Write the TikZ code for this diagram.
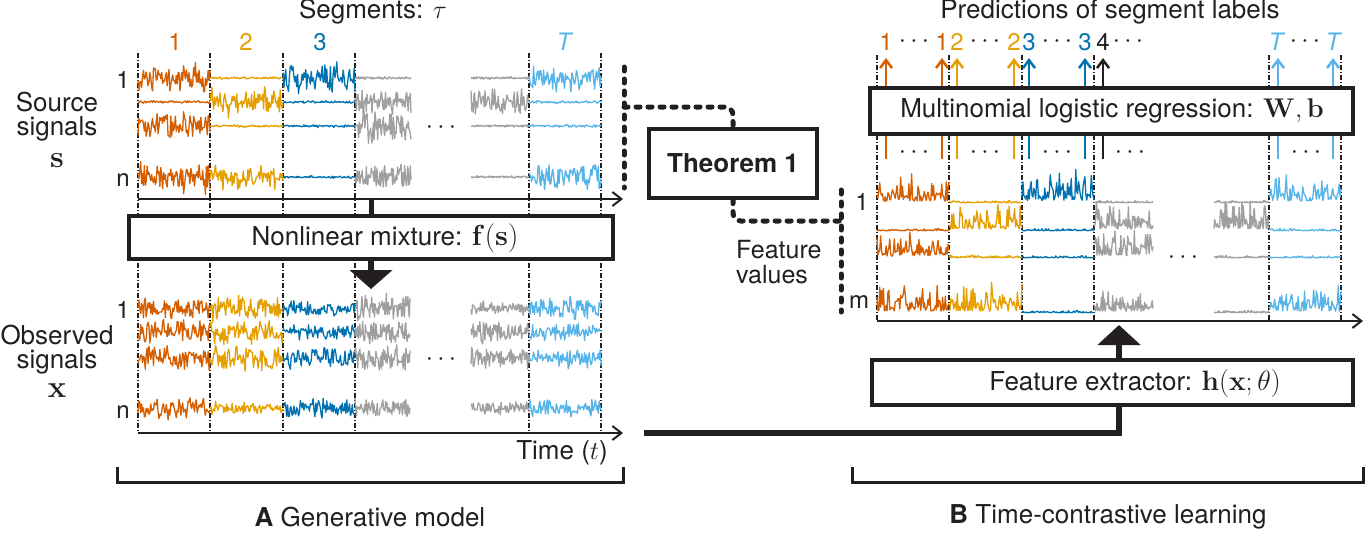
\RequirePackage{fix-cm}
\documentclass[tikz,border=0pt]{standalone}
\usepackage[no-math]{fontspec}
\setmainfont{TeX Gyre Heros}
\usetikzlibrary{arrows.meta}
\definecolor{cOr}{HTML}{D55E00}
\definecolor{cYe}{HTML}{E69F00}
\definecolor{cBl}{HTML}{0072B2}
\definecolor{cLb}{HTML}{56B4E9}
\definecolor{cGr}{HTML}{A0A0A0}
\definecolor{cBk}{HTML}{231F20}
\newcommand{\sgl}[5]{\draw[sigl,#1] plot[domain=#2:#3,samples=80] (\x,{#4+#5*rand*(0.35+0.65*abs(rand))});}
\newcommand{\ftr}[5]{\draw[sigl,#1] plot[domain=#2:#3,samples=80] (\x,{#4-#5*(0.06+0.94*abs(rand*rand))});}
\newcommand{\mydots}{$\cdot\mkern-1mu\cdot\mkern-1mu\cdot$}
\tikzset{
 sigl/.style={line width=1.3pt, line join=round},
 segline/.style={cBk, line width=1.1pt, dash pattern=on 5pt off 2pt on 1pt off 2pt},
 axisline/.style={cBk, line width=2pt, -{Straight Barb[length=9pt,width=14pt]}},
 box/.style={draw=cBk, line width=3.2pt, fill=white, inner sep=0pt},
 lbl/.style={text=cBk, font=\fontsize{26}{26}\selectfont, inner sep=0pt},
 smalllbl/.style={font=\fontsize{24}{24}\selectfont, inner sep=0pt},
 parr/.style={line width=2.5pt, -{Straight Barb[length=8pt,width=12pt]}},
 dotl/.style={cBk, line width=5pt, line cap=round, dash pattern=on 4pt off 8pt},
 thickline/.style={cBk, line width=6.5pt},
 brk/.style={cBk, line width=3pt},
}
\begin{document}
\begin{tikzpicture}[x=1pt,y=-1pt]
\useasboundingbox (0,0) rectangle (1367,541);
\pgfmathsetseed{7}
% ---------- segment boundaries ----------
\foreach \xx in {138,210,283,355,529,601} \draw[segline] (\xx,53) -- (\xx,433);
\foreach \xx in {877,949,1022,1094,1269,1341} \draw[segline] (\xx,55) -- (\xx,321);
% ---------- source signals ----------
\sgl{cOr}{138}{210}{78}{17} \sgl{cOr}{138}{210}{102}{1.5} \sgl{cOr}{138}{210}{126}{17} \sgl{cOr}{138}{210}{177}{18}
\sgl{cYe}{210}{283}{78}{1.5} \sgl{cYe}{210}{283}{102}{17} \sgl{cYe}{210}{283}{126}{1.5} \sgl{cYe}{210}{283}{177}{15}
\sgl{cBl}{283}{355}{78}{18} \sgl{cBl}{283}{355}{102}{1.5} \sgl{cBl}{283}{355}{126}{1.5} \sgl{cBl}{283}{355}{177}{1.5}
\sgl{cGr}{355}{411}{78}{1.5} \sgl{cGr}{355}{411}{102}{16} \sgl{cGr}{355}{411}{126}{19} \sgl{cGr}{355}{411}{177}{15}
\sgl{cGr}{471}{529}{78}{1.5} \sgl{cGr}{471}{529}{102}{15} \sgl{cGr}{471}{529}{126}{1.5} \sgl{cGr}{471}{529}{177}{1.5}
\sgl{cLb}{529}{601}{78}{15} \sgl{cLb}{529}{601}{102}{1.5} \sgl{cLb}{529}{601}{126}{1.5} \sgl{cLb}{529}{601}{177}{16}
% ---------- observed signals ----------
\sgl{cOr}{138}{210}{308}{15} \sgl{cOr}{138}{210}{332}{15} \sgl{cOr}{138}{210}{358}{14} \sgl{cOr}{138}{210}{408}{13}
\sgl{cYe}{210}{283}{308}{15} \sgl{cYe}{210}{283}{332}{15} \sgl{cYe}{210}{283}{358}{16} \sgl{cYe}{210}{283}{408}{7}
\sgl{cBl}{283}{355}{308}{10} \sgl{cBl}{283}{355}{332}{9} \sgl{cBl}{283}{355}{358}{12} \sgl{cBl}{283}{355}{408}{12}
\sgl{cGr}{355}{410}{308}{15} \sgl{cGr}{355}{410}{332}{15} \sgl{cGr}{355}{410}{358}{15} \sgl{cGr}{355}{410}{408}{12}
\sgl{cGr}{471}{529}{308}{8} \sgl{cGr}{471}{529}{332}{13} \sgl{cGr}{471}{529}{358}{13} \sgl{cGr}{471}{529}{408}{7}
\sgl{cLb}{529}{601}{308}{13} \sgl{cLb}{529}{601}{332}{10} \sgl{cLb}{529}{601}{358}{11} \sgl{cLb}{529}{601}{408}{10}
% ---------- feature values ----------
\ftr{cOr}{877}{949}{203}{30} \ftr{cOr}{877}{949}{231}{3} \ftr{cOr}{877}{949}{258}{32} \ftr{cOr}{877}{949}{313}{32}
\ftr{cYe}{949}{1022}{203}{3} \ftr{cYe}{949}{1022}{231}{32} \ftr{cYe}{949}{1022}{258}{3} \ftr{cYe}{949}{1022}{313}{32}
\ftr{cBl}{1022}{1094}{203}{40} \ftr{cBl}{1022}{1094}{231}{3} \ftr{cBl}{1022}{1094}{258}{3} \ftr{cBl}{1022}{1094}{313}{3}
\ftr{cGr}{1094}{1153}{203}{3} \ftr{cGr}{1094}{1153}{231}{32} \ftr{cGr}{1094}{1153}{258}{37} \ftr{cGr}{1094}{1153}{313}{27}
\ftr{cGr}{1214}{1269}{203}{3} \ftr{cGr}{1214}{1269}{231}{32} \ftr{cGr}{1214}{1269}{258}{3} \ftr{cGr}{1214}{1269}{313}{3}
\ftr{cLb}{1269}{1341}{203}{30} \ftr{cLb}{1269}{1341}{231}{3} \ftr{cLb}{1269}{1341}{258}{3} \ftr{cLb}{1269}{1341}{313}{30}
% ---------- axes ----------
\draw[axisline] (138,199) -- (623,199);
\draw[axisline] (138,433) -- (623,433);
\draw[axisline] (877,321) -- (1363,321);
% ---------- prediction arrows ----------
\foreach \xx/\cc in {886/cOr,942/cOr,957/cYe,1014/cYe,1029/cBl,1085/cBl,1103/cBk,1278/cLb,1333/cLb}
  \draw[parr,\cc] (\xx,159) -- (\xx,58);
% ---------- boxes ----------
\node[box, minimum width=484pt, minimum height=43pt] (mix) at (371,237.5) {};
\node[box, minimum width=168pt, minimum height=69pt] (thm) at (733,163.5) {};
\node[box, minimum width=483pt, minimum height=46pt] (mlr) at (1111.5,111) {};
\node[box, minimum width=481pt, minimum height=45pt] (fex) at (1112.5,382.5) {};
\node[lbl] at (385,238) {Nonlinear mixture: {\fontsize{29}{29}\selectfont$\mathbf{f}(\mathbf{s})$}};
\node[lbl, font=\fontsize{26}{26}\selectfont\bfseries] at (733,163.5) {Theorem 1};
\node[lbl] at (1112,111) {Multinomial logistic regression: {\fontsize{27}{27}\selectfont$\mathbf{W},\mathbf{b}$}};
\node[lbl] at (1135,383) {Feature extractor: {\fontsize{28}{28}\selectfont$\mathbf{h}(\mathbf{x};\theta)$}};
% ---------- block connectors ----------
\draw[cBk, line width=5pt] (371,199) -- (mix.north);
\draw[cBk, line width=6pt, -{Triangle[length=19pt,width=42pt]}] (mix.south) -- (371,289);
\coordinate (obsout) at (644,433);
\draw[thickline] (obsout) -- (1119,433) -- ([xshift=6.5pt]fex.south);
\draw[cBk, line width=6pt, -{Triangle[length=20pt,width=42pt]}] ([xshift=6.5pt]fex.north) -- (1119,325);
% ---------- dotted connectors ----------
\draw[dotl] (624,67) -- (624,188);
\draw[dotl, rounded corners=8pt] (624,107) -| (thm.north);
\draw[dotl, rounded corners=8pt] (thm.south) |- (841,221);
\draw[dotl] (841,190) -- (841,312);
% ---------- labels ----------
\node[lbl] at (373,12) {Segments: $\tau$};
\node[smalllbl,cOr] at (175,42) {1};
\node[smalllbl,cYe] at (246,42) {2};
\node[smalllbl,cBl] at (320,42) {3};
\node[smalllbl,cLb] at (564,42) {\itshape T};
\node[smalllbl,cBk] at (123,80) {1};
\node[smalllbl,cBk] at (123,180) {n};
\node[smalllbl,cBk] at (123,310) {1};
\node[smalllbl,cBk] at (123,412) {n};
\node[lbl, align=center, font=\fontsize{26}{24}\selectfont] at (57,117) {Source\\signals};
\node[lbl, font=\fontsize{31}{31}\selectfont] at (57,161) {$\mathbf{s}$};
\node[lbl, align=center, font=\fontsize{26}{24}\selectfont] at (57,350) {Observed\\signals};
\node[lbl, font=\fontsize{31}{31}\selectfont] at (57,391) {$\mathbf{x}$};
\node[lbl] at (441,128) {\mydots};
\node[lbl] at (441,360) {\mydots};
\node[lbl] at (1183,258) {\mydots};
\node[lbl] at (562,453) {Time ($t$)};
\node[lbl, anchor=west, align=left, font=\fontsize{25}{25}\selectfont] at (736,262) {Feature\\values};
\node[smalllbl,cBk] at (862,202) {1};
\node[smalllbl,cBk] at (859,302) {m};
\node[lbl] at (1110,12) {Predictions of segment labels};
\node[smalllbl,cOr] at (886,42) {1};
\node[smalllbl,cOr] at (942,42) {1};
\node[smalllbl,cYe] at (957,42) {2};
\node[smalllbl,cYe] at (1014,42) {2};
\node[smalllbl,cBl] at (1029,42) {3};
\node[smalllbl,cBl] at (1085,42) {3};
\node[smalllbl,cBk] at (1103,42) {4};
\node[smalllbl,cLb] at (1276,42) {\itshape T};
\node[smalllbl,cLb] at (1333,42) {\itshape T};
\foreach \xx in {914,985,1057,1128,1305} \node[lbl] at (\xx,42) {\mydots};
\foreach \xx in {914,985,1057,1130,1306} \node[lbl] at (\xx,153) {\mydots};
% ---------- brackets ----------
\draw[brk] (117,467) -- (117,482) -- (623,482) -- (623,467);
\draw[brk] (852,467) -- (852,482) -- (1363,482) -- (1363,467);
\node[lbl, font=\fontsize{26}{26}\selectfont] at (370,517) {\textbf{A} Generative model};
\node[lbl, font=\fontsize{26}{26}\selectfont] at (1108,517) {\textbf{B} Time-contrastive learning};
\end{tikzpicture}
\end{document}
